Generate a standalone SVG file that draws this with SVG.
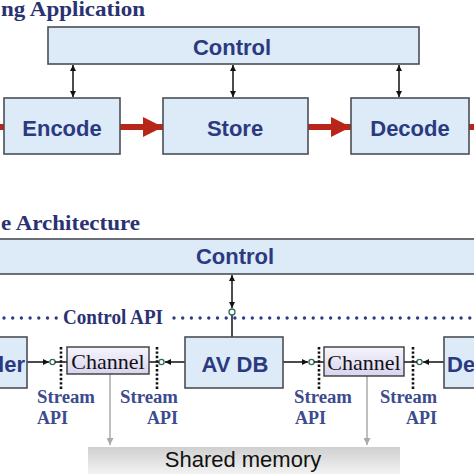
<svg xmlns="http://www.w3.org/2000/svg" width="474" height="474" viewBox="0 0 474 474">
<style>
.box{fill:#dcebf7;stroke:#4a4f55;stroke-width:1.6}
.lbl{font-family:"Liberation Sans",Arial,sans-serif;font-weight:bold;font-size:22px;fill:#2b3a80;text-anchor:middle}
.title{font-family:"Liberation Serif","Times New Roman",serif;font-weight:bold;font-size:21px;fill:#2a3272}
.api{font-family:"Liberation Serif","Times New Roman",serif;font-weight:bold;font-size:18px;fill:#3d4b8e}
.chan{fill:url(#chg);stroke:#3a3a3a;stroke-width:1.4}
.chtxt{font-family:"Liberation Serif","Times New Roman",serif;font-size:22px;fill:#111;text-anchor:middle}
.ln{stroke:#111;stroke-width:1.5;fill:none}
.red{stroke:#b8261a;stroke-width:6;fill:none}
.vdot{stroke:#111;stroke-width:2.6;stroke-dasharray:2.4 2;fill:none}
.hdot{stroke:#2e3c82;stroke-width:3.4;stroke-linecap:round;stroke-dasharray:0 8.7;fill:none}
.circ{fill:#fff;stroke:#2f6a58;stroke-width:1.3}
.gray{stroke:#aaaaaa;stroke-width:1.5;fill:none}
</style>
<defs>
<marker id="ah" viewBox="0 0 10 10" refX="10" refY="5" markerWidth="6" markerHeight="6" orient="auto-start-reverse" markerUnits="userSpaceOnUse"><path d="M0,0 L10,5 L0,10 z" fill="#111"/></marker>
<marker id="ahg" viewBox="0 0 10 10" refX="10" refY="5" markerWidth="7" markerHeight="7" orient="auto" markerUnits="userSpaceOnUse"><path d="M0,0 L10,5 L0,10 z" fill="#aaaaaa"/></marker>
<marker id="rh" viewBox="0 0 10 10" refX="10" refY="5" markerWidth="20" markerHeight="20" orient="auto" markerUnits="userSpaceOnUse"><path d="M0,0 L10,5 L0,10 z" fill="#b8261a"/></marker>
<linearGradient id="chg" x1="0" y1="0" x2="0" y2="1"><stop offset="0" stop-color="#f6f4fc"/><stop offset="1" stop-color="#d9d4ef"/></linearGradient>
<linearGradient id="smg" x1="0" y1="0" x2="0" y2="1"><stop offset="0" stop-color="#d0d0d0"/><stop offset="1" stop-color="#f6f6f6"/></linearGradient>
</defs>
<rect width="474" height="474" fill="#fff"/>

<text class="title" x="1" y="16" textLength="144" lengthAdjust="spacingAndGlyphs">ng Application</text>
<text class="title" x="1" y="230" textLength="139" lengthAdjust="spacingAndGlyphs">e Architecture</text>

<g id="connectors">
  <!-- top section -->
  <line class="ln" x1="73" y1="65" x2="73" y2="97" marker-start="url(#ah)" marker-end="url(#ah)"/>
  <line class="ln" x1="233" y1="65" x2="233" y2="97" marker-start="url(#ah)" marker-end="url(#ah)"/>
  <line class="ln" x1="399" y1="65" x2="399" y2="97" marker-start="url(#ah)" marker-end="url(#ah)"/>
  <line class="red" x1="-2" y1="127" x2="4" y2="127"/>
  <line class="red" x1="120" y1="127" x2="163" y2="127" marker-end="url(#rh)"/>
  <line class="red" x1="308" y1="127" x2="351" y2="127" marker-end="url(#rh)"/>
  <line class="red" x1="469" y1="127" x2="476" y2="127"/>
  <!-- bottom section -->
  <line class="hdot" x1="4" y1="318" x2="60" y2="318"/>
  <line class="hdot" x1="174" y1="318" x2="474" y2="318"/>
  <line class="ln" x1="232" y1="275" x2="232" y2="308" marker-start="url(#ah)" marker-end="url(#ah)"/>
  <line class="ln" x1="232" y1="315" x2="232" y2="337"/>
  <circle class="circ" cx="232" cy="312" r="3"/>
  <!-- Encoder -> Channel1 -->
  <line class="ln" x1="27" y1="362" x2="49" y2="362" marker-end="url(#ah)"/>
  <circle class="circ" cx="52.5" cy="362" r="2.6"/>
  <line class="ln" x1="55" y1="362" x2="67" y2="362"/>
  <line class="vdot" x1="61" y1="347" x2="61" y2="390"/>
  <!-- AV DB -> Channel1 -->
  <line class="ln" x1="185" y1="362" x2="165" y2="362" marker-end="url(#ah)"/>
  <circle class="circ" cx="161.5" cy="362" r="2.6"/>
  <line class="ln" x1="159" y1="362" x2="149" y2="362"/>
  <line class="vdot" x1="157" y1="347" x2="157" y2="390"/>
  <!-- AV DB -> Channel2 -->
  <line class="ln" x1="283" y1="362" x2="308" y2="362" marker-end="url(#ah)"/>
  <circle class="circ" cx="311.5" cy="362" r="2.6"/>
  <line class="ln" x1="314" y1="362" x2="324" y2="362"/>
  <line class="vdot" x1="319" y1="347" x2="319" y2="390"/>
  <!-- Decoder -> Channel2 -->
  <line class="ln" x1="444" y1="362" x2="423" y2="362" marker-end="url(#ah)"/>
  <circle class="circ" cx="419.5" cy="362" r="2.6"/>
  <line class="ln" x1="417" y1="362" x2="404" y2="362"/>
  <line class="vdot" x1="413" y1="347" x2="413" y2="390"/>
  <!-- to shared memory -->
  <line class="gray" x1="110" y1="374" x2="110" y2="445" marker-end="url(#ahg)"/>
  <line class="gray" x1="367" y1="376" x2="367" y2="445" marker-end="url(#ahg)"/>
</g>

<g id="control-top">
  <rect class="box" x="48" y="27" width="371" height="37"/>
  <text class="lbl" x="232" y="55">Control</text>
</g>
<g id="encode">
  <rect class="box" x="4" y="98" width="116" height="56"/>
  <text class="lbl" x="62" y="136">Encode</text>
</g>
<g id="store">
  <rect class="box" x="163" y="98" width="145" height="56"/>
  <text class="lbl" x="235" y="136">Store</text>
</g>
<g id="decode">
  <rect class="box" x="351" y="98" width="118" height="56"/>
  <text class="lbl" x="410" y="136">Decode</text>
</g>

<g id="control-bottom">
  <rect class="box" x="-5" y="239" width="484" height="35"/>
  <text class="lbl" x="235" y="264">Control</text>
</g>
<g id="control-api">
  <text class="title" x="63" y="324" font-size="19" textLength="100" lengthAdjust="spacingAndGlyphs">Control API</text>
</g>
<g id="encoder">
  <rect class="box" x="-5" y="337" width="32" height="51"/>
  <text class="lbl" x="25" y="372" style="text-anchor:end">der</text>
</g>
<g id="channel1">
  <rect class="chan" x="67" y="347" width="82" height="27"/>
  <text class="chtxt" x="108" y="369">Channel</text>
</g>
<g id="avdb">
  <rect class="box" x="185" y="337" width="98" height="51"/>
  <text class="lbl" x="235" y="372">AV DB</text>
</g>
<g id="channel2">
  <rect class="chan" x="324" y="347" width="80" height="29"/>
  <text class="chtxt" x="364" y="370">Channel</text>
</g>
<g id="decoder">
  <rect class="box" x="444" y="337" width="40" height="51"/>
  <text class="lbl" x="447" y="372" style="text-anchor:start">De</text>
</g>

<g id="stream-api-labels">
  <text class="api" x="37" y="403" textLength="58" lengthAdjust="spacingAndGlyphs">Stream</text>
  <text class="api" x="37" y="424">API</text>
  <text class="api" x="120" y="403" textLength="58" lengthAdjust="spacingAndGlyphs">Stream</text>
  <text class="api" x="178" y="424" text-anchor="end">API</text>
  <text class="api" x="294" y="403" textLength="58" lengthAdjust="spacingAndGlyphs">Stream</text>
  <text class="api" x="295" y="424">API</text>
  <text class="api" x="380" y="403" textLength="57" lengthAdjust="spacingAndGlyphs">Stream</text>
  <text class="api" x="437" y="424" text-anchor="end">API</text>
</g>

<g id="shared-memory">
  <rect x="88" y="447" width="312" height="30" fill="url(#smg)"/>
  <text x="243" y="467" font-family="'Liberation Sans',Arial,sans-serif" font-size="22" fill="#111" text-anchor="middle">Shared memory</text>
</g>
</svg>
